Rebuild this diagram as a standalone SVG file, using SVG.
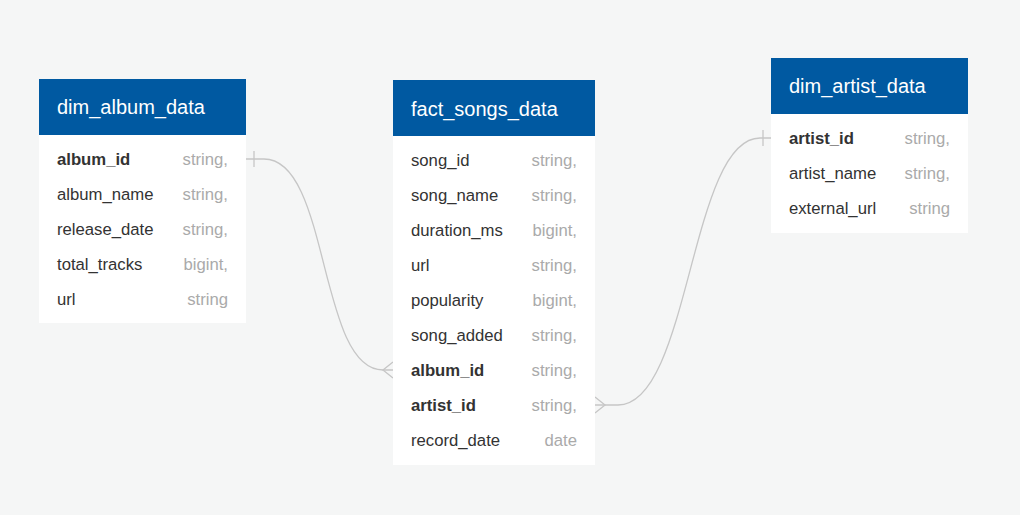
<svg xmlns="http://www.w3.org/2000/svg" width="1020" height="515" viewBox="0 0 1020 515">
<style>
.bg{fill:#f5f6f6}
.body{fill:#ffffff}
.head{fill:#0059a1}
.title{font-family:"Liberation Sans",Arial,sans-serif;font-size:20px;fill:#ffffff}
.col{font-family:"Liberation Sans",Arial,sans-serif;font-size:16.7px;fill:#333333}
.key{font-weight:bold}
.typ{font-family:"Liberation Sans",Arial,sans-serif;font-size:16.7px;fill:#aaaaaa;text-anchor:end}
.conn{fill:none;stroke:#c6c6c6;stroke-width:1.3}
</style>
<rect class="bg" x="0" y="0" width="1020" height="515"/>
<g id="connectors">
  <path class="conn" d="M246,159 L264,159 C330,159 318,370 383,370 L393,370"/>
  <path class="conn" d="M254,151 L254,167"/>
  <path class="conn" d="M393,362 L383,370 L393,378"/>
  <path class="conn" d="M595,405 L618,405 C690,405 690,138 760,138 L771,138"/>
  <path class="conn" d="M595,397 L605,405 L595,413"/>
  <path class="conn" d="M763,130 L763,146"/>
</g>
<g id="dim_album_data">
  <rect class="body" x="39" y="79" width="207" height="244"/>
  <rect class="head" x="39" y="79" width="207" height="56"/>
  <text class="title" x="57" y="114">dim_album_data</text>
  <text class="col key" x="57" y="165">album_id</text><text class="typ" x="228" y="165">string,</text>
  <text class="col" x="57" y="200">album_name</text><text class="typ" x="228" y="200">string,</text>
  <text class="col" x="57" y="235">release_date</text><text class="typ" x="228" y="235">string,</text>
  <text class="col" x="57" y="270">total_tracks</text><text class="typ" x="228" y="270">bigint,</text>
  <text class="col" x="57" y="305">url</text><text class="typ" x="228" y="305">string</text>
</g>
<g id="fact_songs_data">
  <rect class="body" x="393" y="80" width="202" height="385"/>
  <rect class="head" x="393" y="80" width="202" height="56"/>
  <text class="title" x="411" y="116">fact_songs_data</text>
  <text class="col" x="411" y="166">song_id</text><text class="typ" x="577" y="166">string,</text>
  <text class="col" x="411" y="201">song_name</text><text class="typ" x="577" y="201">string,</text>
  <text class="col" x="411" y="236">duration_ms</text><text class="typ" x="577" y="236">bigint,</text>
  <text class="col" x="411" y="271">url</text><text class="typ" x="577" y="271">string,</text>
  <text class="col" x="411" y="306">popularity</text><text class="typ" x="577" y="306">bigint,</text>
  <text class="col" x="411" y="341">song_added</text><text class="typ" x="577" y="341">string,</text>
  <text class="col key" x="411" y="376">album_id</text><text class="typ" x="577" y="376">string,</text>
  <text class="col key" x="411" y="411">artist_id</text><text class="typ" x="577" y="411">string,</text>
  <text class="col" x="411" y="446">record_date</text><text class="typ" x="577" y="446">date</text>
</g>
<g id="dim_artist_data">
  <rect class="body" x="771" y="58" width="197" height="175"/>
  <rect class="head" x="771" y="58" width="197" height="56"/>
  <text class="title" x="789" y="93">dim_artist_data</text>
  <text class="col key" x="789" y="144">artist_id</text><text class="typ" x="950" y="144">string,</text>
  <text class="col" x="789" y="179">artist_name</text><text class="typ" x="950" y="179">string,</text>
  <text class="col" x="789" y="214">external_url</text><text class="typ" x="950" y="214">string</text>
</g>
</svg>
